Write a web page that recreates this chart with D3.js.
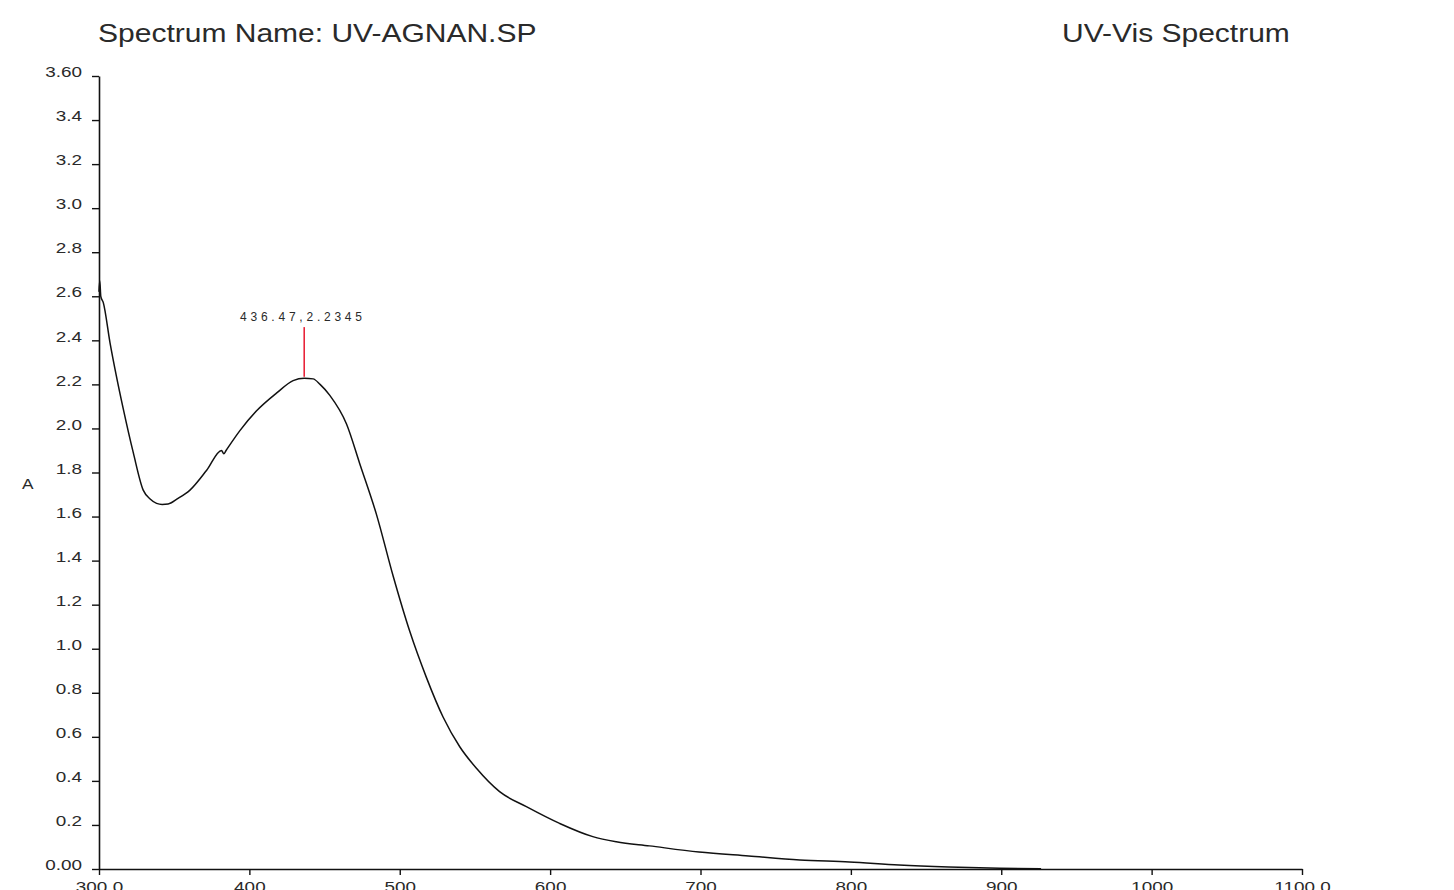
<!DOCTYPE html>
<html>
<head>
<meta charset="utf-8">
<script src="https://cdn.jsdelivr.net/npm/d3@7"></script>
<style>
  body { margin: 0; background: #fff; }
  text { font-family: "Liberation Sans", Arial, sans-serif; fill: #2a2a2a; }
</style>
</head>
<body>
<div id="chart"></div>
<script>
const margin = { top: 76, right: 152, bottom: 21, left: 99 };
const width = 1454 - margin.left - margin.right;
const height = 890 - margin.top - margin.bottom;

// spectrum (wavelength nm, absorbance)
const wavelengths = [300.0, 300.5, 301.2, 302.9, 307.3, 311.5, 316.1, 322.8, 329.4, 334.0, 338.3, 342.0, 346.0,
  352.0, 360.5, 371.6, 381.5, 383.0, 384.5, 393.7, 404.8, 418.0, 429.1, 436.47, 442.4, 447.0, 453.5,
  464.6, 473.4, 484.5, 495.6, 506.6, 517.7, 528.8, 539.9, 551.0, 566.4, 584.2, 606.3, 628.4, 644.0,
  666.0, 699.0, 732.0, 766.0, 799.0, 832.0, 865.0, 899.0, 926.5];
const absorbance = [2.62, 2.67, 2.60, 2.57, 2.39, 2.24, 2.09, 1.89, 1.72, 1.68, 1.66, 1.655, 1.657,
  1.68, 1.72, 1.81, 1.90, 1.885, 1.90, 1.99, 2.08, 2.16, 2.217, 2.228, 2.225, 2.20, 2.15,
  2.02, 1.84, 1.61, 1.33, 1.08, 0.87, 0.69, 0.555, 0.457, 0.351, 0.283, 0.207, 0.147, 0.124,
  0.105, 0.077, 0.059, 0.041, 0.032, 0.018, 0.009, 0.003, 0.001];

const xTicks = [300, 400, 500, 600, 700, 800, 900, 1000, 1100];
const xTickLabels = ["300.0", "400", "500", "600", "700", "800", "900", "1000", "1100.0"];
const yTicks = [0, 0.2, 0.4, 0.6, 0.8, 1.0, 1.2, 1.4, 1.6, 1.8, 2.0, 2.2, 2.4, 2.6, 2.8, 3.0, 3.2, 3.4, 3.6];
const yTickLabels = ["0.00", "0.2", "0.4", "0.6", "0.8", "1.0", "1.2", "1.4", "1.6", "1.8", "2.0",
  "2.2", "2.4", "2.6", "2.8", "3.0", "3.2", "3.4", "3.60"];

const peakWl = 436.47;
const peakA = 2.2345;
const peakTop = 2.46;
const peakLabel = "436.47,2.2345";

// the original glyphs are wider than Arial, so stretch each text horizontally
let stretch = (sel, factor) => {
  sel.each(function () {
    const w = this.getComputedTextLength();
    d3.select(this)
      .attr("textLength", w * factor)
      .attr("lengthAdjust", "spacingAndGlyphs");
  });
};

const svg = d3.select("#chart")
  .append("svg")
  .attr("width", width + margin.left + margin.right)
  .attr("height", height + margin.top + margin.bottom);

const g = svg.append("g")
  .attr("transform", "translate(" + margin.left + "," + margin.top + ")");

// titles
svg.append("text")
  .attr("x", 98)
  .attr("y", 42)
  .attr("font-size", 25)
  .text("Spectrum Name: UV-AGNAN.SP")
  .call(stretch, 1.2);

svg.append("text")
  .attr("x", 1062)
  .attr("y", 42)
  .attr("font-size", 25)
  .text("UV-Vis Spectrum")
  .call(stretch, 1.2);

svg.append("text")
  .attr("x", 22)
  .attr("y", 489)
  .attr("font-size", 15)
  .text("A")
  .call(stretch, 1.15);

// scales
const xScale = d3.scaleLinear()
  .domain([300, 1100])
  .range([0, width]);

const yScale = d3.scaleLinear()
  .domain([0, 3.6])
  .range([height, 0]);

// axes
const xAxis = d3.axisBottom(xScale)
  .tickValues(xTicks)
  .tickFormat((d, i) => xTickLabels[i])
  .tickSize(6)
  .tickSizeOuter(0);

const yAxis = d3.axisLeft(yScale)
  .tickValues(yTicks)
  .tickFormat((d, i) => yTickLabels[i])
  .tickSize(7)
  .tickSizeOuter(0);

const xAxisDrawn = g.append("g")
  .attr("transform", "translate(0," + height + ")")
  .call(xAxis);

const yAxisDrawn = g.append("g")
  .call(yAxis);

[xAxisDrawn, yAxisDrawn].forEach(a => {
  a.select(".domain").attr("stroke", "#111").attr("stroke-width", 1.6);
  a.selectAll(".tick line").attr("stroke", "#111").attr("stroke-width", 1.4);
  a.selectAll(".tick text")
    .attr("font-size", 14)
    .attr("font-family", null)
    .attr("fill", "#2a2a2a");
});

// labels sit partly below the bottom edge, as in the original
xAxisDrawn.selectAll(".tick text")
  .attr("y", 23)
  .attr("dy", 0)
  .call(stretch, 1.35);

yAxisDrawn.selectAll(".tick text")
  .attr("x", -17)
  .attr("dy", "0.05em")
  .call(stretch, 1.35);

// spectrum line
const points = wavelengths.map((w, i) => [w, absorbance[i]]);

const line = d3.line()
  .curve(d3.curveMonotoneX)
  .x(d => xScale(d[0]))
  .y(d => yScale(d[1]));

g.append("path")
  .datum(points)
  .attr("fill", "none")
  .attr("stroke", "#111")
  .attr("stroke-width", 1.5)
  .attr("stroke-linejoin", "round")
  .attr("d", line);

// peak marker
g.append("line")
  .attr("x1", xScale(peakWl))
  .attr("x2", xScale(peakWl))
  .attr("y1", yScale(peakA))
  .attr("y2", yScale(peakTop))
  .attr("stroke", "#e8243a")
  .attr("stroke-width", 1.6);

g.append("text")
  .attr("x", 141)
  .attr("y", yScale(peakTop) - 6)
  .attr("font-size", 12)
  .attr("textLength", 122)
  .attr("lengthAdjust", "spacing")
  .text(peakLabel);
</script>
</body>
</html>
